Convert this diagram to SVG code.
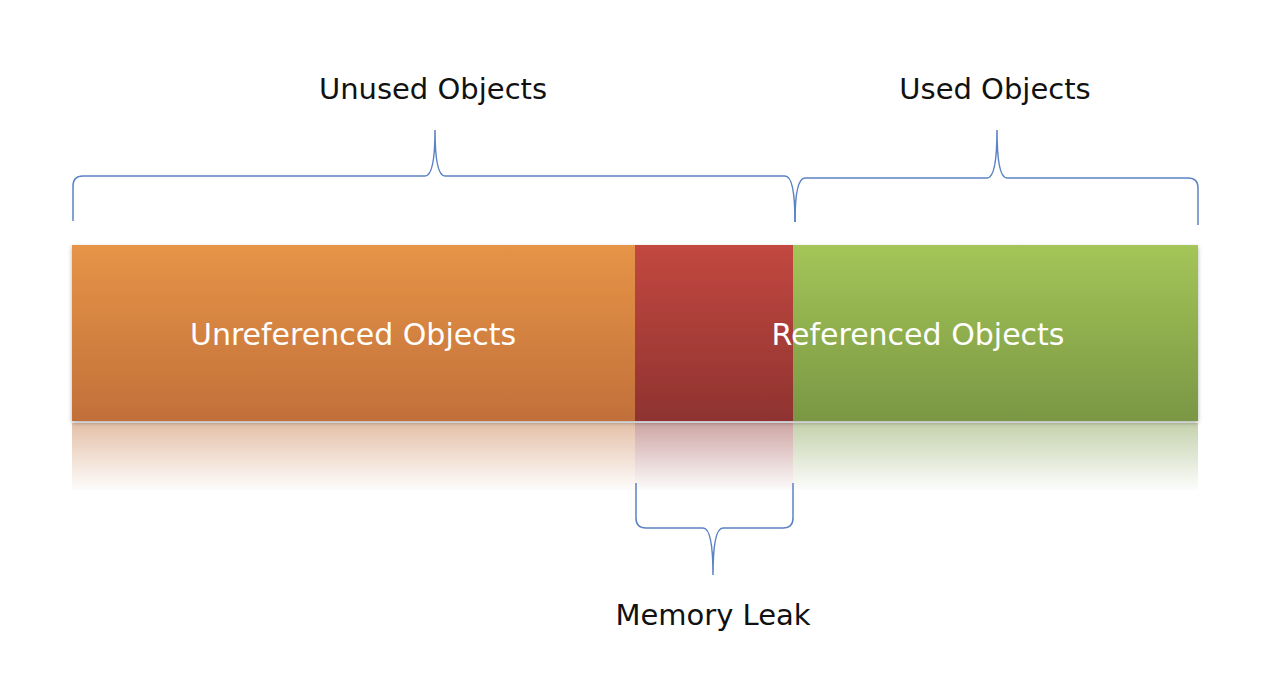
<svg xmlns="http://www.w3.org/2000/svg" width="1280" height="695" viewBox="0 0 1280 695">
<style>
.brace{fill:none;stroke:#5b82c4;stroke-width:1.5}
.lbl{font-family:"DejaVu Sans",sans-serif;font-size:29px;fill:#111;text-anchor:middle}
.in{font-family:"DejaVu Sans",sans-serif;font-size:30px;fill:#fff;text-anchor:middle}
</style>
<defs>
<linearGradient id="go" x1="0" y1="0" x2="0" y2="1"><stop offset="0" stop-color="#e69447"/><stop offset="1" stop-color="#c2703a"/></linearGradient>
<linearGradient id="gr" x1="0" y1="0" x2="0" y2="1"><stop offset="0" stop-color="#c24840"/><stop offset="1" stop-color="#8f3330"/></linearGradient>
<linearGradient id="gg" x1="0" y1="0" x2="0" y2="1"><stop offset="0" stop-color="#a4c558"/><stop offset="1" stop-color="#7a9744"/></linearGradient>
<linearGradient id="fade" x1="0" y1="0" x2="0" y2="1"><stop offset="0" stop-color="#fff" stop-opacity="0.55"/><stop offset="1" stop-color="#fff" stop-opacity="1"/></linearGradient>
<filter id="sh" x="-5%" y="-5%" width="110%" height="120%"><feDropShadow dx="0" dy="2" stdDeviation="2" flood-opacity="0.3"/></filter>
</defs>
<rect width="1280" height="695" fill="#fff"/>
<g id="reflection">
<rect x="72" y="423" width="563" height="67" fill="#c2703a"/>
<rect x="635" y="423" width="158" height="67" fill="#8f3330"/>
<rect x="793" y="423" width="405" height="67" fill="#7a9744"/>
<rect x="70" y="421" width="1132" height="72" fill="url(#fade)"/>
</g>
<g id="bar" filter="url(#sh)">
<rect x="72" y="245" width="563" height="176" fill="url(#go)"/>
<rect x="635" y="245" width="158" height="176" fill="url(#gr)"/>
<rect x="793" y="245" width="405" height="176" fill="url(#gg)"/>
</g>
<g id="unreferenced"><text class="in" x="353" y="345">Unreferenced Objects</text></g>
<g id="referenced"><text class="in" x="918" y="345">Referenced Objects</text></g>
<g id="connectors">
<path class="brace" d="M73,221 V186 Q73,176 83,176 H425 Q435,176 435,130 Q435,176 445,176 H785 Q795,176 795,222"/>
<path class="brace" d="M795,222 Q795,178 805,178 H987 Q997,178 997,130 Q997,178 1007,178 H1188 Q1198,178 1198,188 V225"/>
<path class="brace" d="M636,483 V518 Q636,528 646,528 H703 Q713,528 713,575 Q713,528 723,528 H783 Q793,528 793,518 V483"/>
</g>
<g id="labels">
<text class="lbl" x="433" y="99">Unused Objects</text>
<text class="lbl" x="995" y="99">Used Objects</text>
<text class="lbl" x="713" y="625">Memory Leak</text>
</g>
</svg>
